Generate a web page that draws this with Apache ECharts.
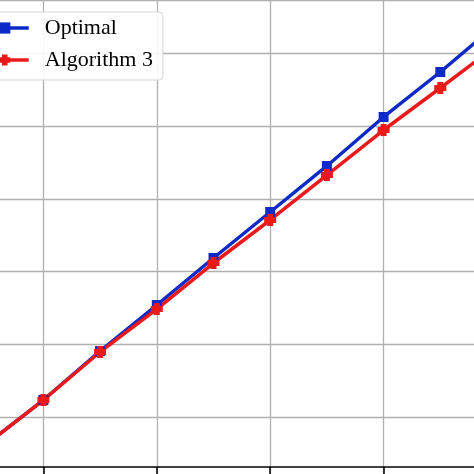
<!DOCTYPE html>
<html>
<head>
<meta charset="utf-8">
<script src="https://cdn.jsdelivr.net/npm/echarts@6/dist/echarts.min.js"></script>
<style>
  html, body { margin: 0; padding: 0; background: #fff; }
  #chart { width: 474px; height: 474px; }
</style>
</head>
<body>
<div id="chart"></div>
<script>
// x positions of the samples (grid lines sit on whole numbers)
var xValues = [0.5, 1, 1.5, 2, 2.5, 3, 3.5, 4, 4.5, 5];
var seriesNames = ["Optimal", "Algorithm 3"];
var optimal = [6.32, 12.36, 19.09, 25.41, 31.87, 38.19, 44.51, 51.24, 57.42, 64.01];
var algorithm3 = [6.32, 12.36, 18.96, 24.86, 31.18, 37.09, 43.27, 49.45, 55.22, 61.1];

var colors = ["#0d2ac6", "#ea1a1a"];
// filled plus marker
var plusPath = "path://M2.5,0H7.5V2.5H10V7.5H7.5V10H2.5V7.5H0V2.5H2.5Z";

function pairs(ys) {
  var out = [];
  for (var i = 0; i < xValues.length; i++) {
    out.push([xValues[i], ys[i]]);
  }
  return out;
}

var chart = echarts.init(document.getElementById("chart"));

var gridLine = { show: true, lineStyle: { color: "#b0b0b0", width: 1.3 } };

var option = {
  animation: false,
  backgroundColor: "#fff",
  grid: { left: -70, right: -23, top: 0, bottom: -16, outerBoundsMode: "none" },
  legend: {
    orient: "vertical",
    left: -31,
    top: 12,
    padding: [5, 10, 9, 10],
    itemWidth: 48,
    itemHeight: 14,
    itemGap: 10,
    backgroundColor: "rgba(255,255,255,0.9)",
    borderColor: "#d6d6d6",
    borderWidth: 1,
    borderRadius: 4,
    lineStyle: { width: 3.5 },
    textStyle: {
      fontFamily: "Liberation Serif",
      fontSize: 22,
      lineHeight: 22,
      color: "#000",
      padding: [0, 0, 0, 11]
    },
    data: seriesNames
  },
  xAxis: [
    {
      type: "value",
      position: "bottom",
      offset: -23,
      min: 0,
      max: 5,
      interval: 1,
      axisLine: { show: true, lineStyle: { color: "#000", width: 1.5 } },
      axisTick: { show: true, inside: false, length: 7, lineStyle: { color: "#000", width: 1.5 } },
      axisLabel: { show: false },
      splitLine: gridLine
    },
    {
      type: "value",
      position: "top",
      min: 0,
      max: 5,
      axisLine: { show: true, lineStyle: { color: "#b0b0b0", width: 2 } },
      axisTick: { show: false },
      axisLabel: { show: false },
      splitLine: { show: false }
    }
  ],
  yAxis: {
    type: "value",
    min: 0,
    max: 67.31,
    interval: 10,
    axisLine: { show: false },
    axisTick: { show: false },
    axisLabel: { show: false },
    splitLine: gridLine
  },
  series: [
    {
      name: seriesNames[0],
      type: "line",
      data: pairs(optimal),
      symbol: "rect",
      symbolSize: 10,
      showSymbol: true,
      lineStyle: { color: colors[0], width: 3.5 },
      itemStyle: { color: colors[0] }
    },
    {
      name: seriesNames[1],
      type: "line",
      data: pairs(algorithm3),
      symbol: plusPath,
      symbolSize: 12,
      showSymbol: true,
      lineStyle: { color: colors[1], width: 3.5 },
      itemStyle: { color: colors[1] }
    }
  ]
};

chart.setOption(option);
</script>
</body>
</html>
